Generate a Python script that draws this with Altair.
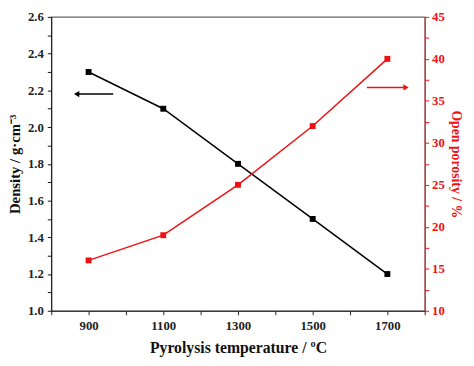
import altair as alt
import pandas as pd

temps = [900, 1100, 1300, 1500, 1700]
density = [2.3, 2.1, 1.8, 1.5, 1.2]
porosity = [16, 19, 25, 32, 40]

# arrow annotations (tail x, head x, level)
arrow_density = [966, 868, 2.18]
arrow_porosity = [1645, 1750, 36.6]

df = pd.DataFrame({"temp": temps, "density": density, "porosity": porosity})
FONT = "Liberation Serif"

x_vals = list(range(800, 1801, 100))
xenc = alt.X(
    "temp:Q",
    scale=alt.Scale(domain=[800, 1800], nice=False, zero=False),
    axis=alt.Axis(
        values=x_vals,
        tickCount=100,
        title="Pyrolysis temperature  / ºC",
        labelExpr="(datum.value >= 900 && datum.value <= 1700 && (datum.value - 900) % 200 == 0) ? format(datum.value, 'd') : ''",
        labelOverlap=False,
        tickSize=4,
        grid=False,
        domainColor="#222",
        tickColor="#222",
        labelFont=FONT, labelFontSize=13, labelFontWeight="bold", labelColor="#222",
        titleFont=FONT, titleFontSize=16, titleFontWeight="bold", titleColor="#111",
        labelPadding=5, titlePadding=7,
    ),
)

yl_vals = [round(1.0 + 0.1 * i, 1) for i in range(17)]
yl_scale = alt.Scale(domain=[1.0, 2.6], nice=False, zero=False)
yl_axis = alt.Axis(
    values=yl_vals,
    tickCount=100,
    title="Density / g·cm⁻³",
    labelExpr="round(datum.value * 10) % 2 == 0 ? format(datum.value, '.1f') : ''",
    labelOverlap=False,
    tickSize=4,
    grid=False,
    domainColor="#111", tickColor="#111",
    labelFont=FONT, labelFontSize=13, labelFontWeight="bold", labelColor="#222",
    titleFont=FONT, titleFontSize=15, titleFontWeight="bold", titleColor="#111",
    labelPadding=4, titlePadding=5,
)

yr_vals = [10 + 2.5 * i for i in range(15)]
yr_scale = alt.Scale(domain=[10, 45], nice=False, zero=False)
RED = "#ee1111"
yr_axis = alt.Axis(
    orient="right",
    values=yr_vals,
    tickCount=100,
    title="Open porosity / %",
    labelExpr="datum.value % 5 == 0 ? format(datum.value, 'd') : ''",
    labelOverlap=False,
    tickSize=4,
    grid=False,
    domainColor=RED, tickColor=RED, labelColor=RED, titleColor=RED,
    labelFont=FONT, labelFontSize=13, labelFontWeight="bold",
    titleFont=FONT, titleFontSize=14, titleFontWeight="bold",
    labelPadding=3, titlePadding=4,
)

base = alt.Chart(df)

black_line = base.mark_line(color="black", strokeWidth=1.5).encode(
    x=xenc, y=alt.Y("density:Q", scale=yl_scale, axis=yl_axis)
)
black_pts = base.mark_point(shape="square", filled=True, color="black", size=36, opacity=1).encode(
    x="temp:Q", y="density:Q"
)
ad = pd.DataFrame({"x1": [arrow_density[0]], "x2": [arrow_density[1]], "y": [arrow_density[2]]})
black_arrow = alt.Chart(ad).mark_rule(color="black", strokeWidth=1.5).encode(
    x="x1:Q", x2="x2:Q", y=alt.Y("y:Q", scale=yl_scale)
)
black_head = alt.Chart(ad).mark_point(shape="triangle-left", filled=True, color="black", size=40, opacity=1).encode(
    x="x2:Q", y=alt.Y("y:Q", scale=yl_scale)
)
left = alt.layer(black_line, black_pts, black_arrow, black_head)

red_line = base.mark_line(color=RED, strokeWidth=1.5).encode(
    x="temp:Q", y=alt.Y("porosity:Q", scale=yr_scale, axis=yr_axis)
)
red_pts = base.mark_point(shape="square", filled=True, color=RED, size=36, opacity=1).encode(
    x="temp:Q", y="porosity:Q"
)
ap = pd.DataFrame({"x1": [arrow_porosity[0]], "x2": [arrow_porosity[1]], "y": [arrow_porosity[2]]})
red_arrow = alt.Chart(ap).mark_rule(color=RED, strokeWidth=1.5).encode(
    x="x1:Q", x2="x2:Q", y=alt.Y("y:Q", scale=yr_scale)
)
red_head = alt.Chart(ap).mark_point(shape="triangle-right", filled=True, color=RED, size=40, opacity=1).encode(
    x="x2:Q", y=alt.Y("y:Q", scale=yr_scale)
)
right = alt.layer(red_line, red_pts, red_arrow, red_head)

chart = (
    alt.layer(left, right)
    .resolve_scale(y="independent")
    .properties(
        width=380,
        height=299,
        autosize=alt.AutoSizeParams(type="none"),
        padding={"left": 44, "top": 6, "right": 42, "bottom": 45},
        background="white",
    )
    .configure_view(stroke="#666", strokeWidth=1.2)
)

chart.save("out.html", embed_options={"renderer": "svg", "actions": False})
